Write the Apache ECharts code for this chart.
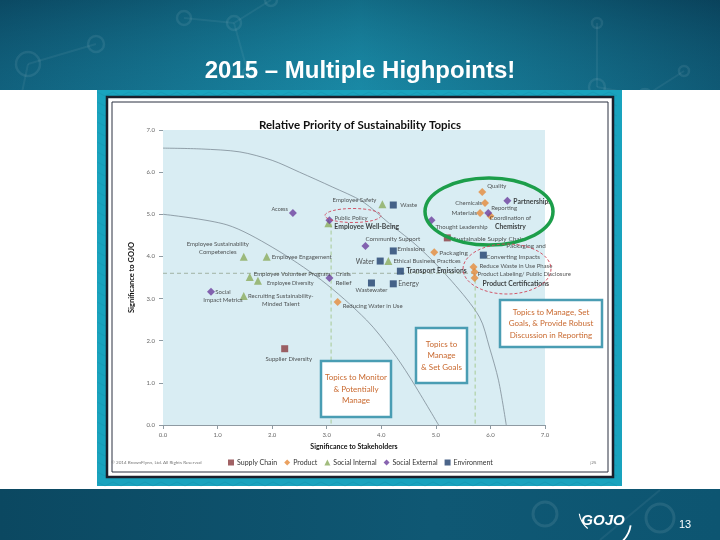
<!DOCTYPE html>
<html><head><meta charset="utf-8">
<script src="https://cdn.jsdelivr.net/npm/echarts@6/dist/echarts.min.js"></script>
<style>html,body{margin:0;padding:0;background:#fff}#c{width:720px;height:540px}</style>
</head><body><div id="c"></div>
<script>
// ---------- data ----------
const categories = ["Supply Chain", "Product", "Social Internal", "Social External", "Environment"];
const xTickLabels = ["0.0","1.0","2.0","3.0","4.0","5.0","6.0","7.0"];
const yTickLabels = ["0.0","1.0","2.0","3.0","4.0","5.0","6.0","7.0"];

const supplyChain = [
  ["Supplier Diversity", 2.23, 1.81],
  ["Sustainable Supply Chain", 5.21, 4.44]
];
const product = [
  ["Quality", 5.85, 5.53],
  ["Chemicals", 5.90, 5.27],
  ["Materials", 5.81, 5.03],
  ["Coordination of Chemistry", 6.00, 4.96],
  ["Packaging", 4.97, 4.10],
  ["Reduce Waste in Use Phase", 5.69, 3.75],
  ["Product Labeling/ Public Disclosure", 5.71, 3.63],
  ["Product Certifications", 5.71, 3.49],
  ["Reducing Water in Use", 3.20, 2.92]
];
const socialInternal = [
  ["Employee Safety", 4.02, 5.24],
  ["Employee Well-Being", 3.03, 4.79],
  ["Employee Sustainability Competencies", 1.48, 3.99],
  ["Employee Engagement", 1.90, 3.99],
  ["Employee Volunteer Program", 1.59, 3.51],
  ["Employee Diversity", 1.74, 3.42],
  ["Recruiting Sustainability-Minded Talent", 1.48, 3.06],
  ["Ethical Business Practices", 4.13, 3.89]
];
const socialExternal = [
  ["Access", 2.38, 5.03],
  ["Public Policy", 3.05, 4.86],
  ["Community Support", 3.71, 4.25],
  ["Crisis Relief", 3.05, 3.49],
  ["Social Impact Metrics", 0.88, 3.16],
  ["Partnerships", 6.31, 5.32],
  ["Reporting", 5.96, 5.03],
  ["Thought Leadership", 4.92, 4.86]
];
const environment = [
  ["Waste", 4.22, 5.22],
  ["Emissions", 4.22, 4.13],
  ["Water", 3.98, 3.89],
  ["Transport Emissions", 4.35, 3.65],
  ["Wastewater", 3.82, 3.37],
  ["Energy", 4.22, 3.35],
  ["Packaging and Converting Impacts", 5.87, 4.03]
];
// priority boundary curves
const outerCurve = [[0,6.57],[0.7,6.55],[1.41,6.48],[2.0,6.28],[2.5,6.0],[3.1,5.65],[3.66,5.3],[4.15,4.78],[4.7,4.2],[5.3,3.4],[5.8,2.56],[5.98,1.85],[6.15,1.05],[6.29,0]];
const innerCurve = [[0,5.0],[1.17,4.75],[2.0,4.22],[2.9,3.44],[3.73,2.49],[4.2,1.75],[4.52,1.14],[5.05,0]];
const horizontalGuide = [[0,3.6],[5.72,3.6]];
const verticalGuideA = [[3.08,4.78],[3.08,0]];
const verticalGuideB = [[5.72,3.45],[5.72,0]];

// ---------- styles (label placement) ----------
// name: [dx, dy, align, size, text, emphasised]
const labelPlacement = {
  "Supplier Diversity": [4, 10, "center", 6],
  "Sustainable Supply Chain": [6, 1, "left", 6.5],
  "Quality": [5, -6, "left", 6],
  "Chemicals": [-3, 0, "right", 6],
  "Materials": [-3, 0, "right", 6.3],
  "Coordination of Chemistry": [20, 6.5, "center", 6, "{a|Coordination of}\n{b|Chemistry}"],
  "Packaging": [5, 1, "left", 6.5],
  "Reduce Waste in Use Phase": [6, -1, "left", 6],
  "Product Labeling/ Public Disclosure": [3, 2.5, "left", 6],
  "Product Certifications": [8, 5.5, "left", 6.8, null, true],
  "Reducing Water in Use": [5, 4, "left", 6],
  "Employee Safety": [-6, -4, "right", 6],
  "Employee Well-Being": [6, 4, "left", 6.8, null, true],
  "Employee Sustainability Competencies": [-26, -9, "center", 6, "Employee Sustainability\nCompetencies"],
  "Employee Engagement": [5, 0, "left", 6],
  "Employee Volunteer Program": [4, -3, "left", 6],
  "Employee Diversity": [9, 2, "left", 5.5],
  "Recruiting Sustainability-Minded Talent": [37, 4, "center", 6, "Recruiting Sustainability-\nMinded Talent"],
  "Ethical Business Practices": [5, 0, "left", 6],
  "Access": [-5, -4, "right", 5.5],
  "Public Policy": [5, -2, "left", 6],
  "Community Support": [0, -7, "left", 6.2],
  "Crisis Relief": [6, 0, "left", 6.5, "Crisis\nRelief"],
  "Social Impact Metrics": [12, 4, "center", 6, "Social\nImpact Metrics"],
  "Partnerships": [6, 1, "left", 6.8, null, true],
  "Reporting": [3, -5, "left", 6],
  "Thought Leadership": [4, 7, "left", 6],
  "Waste": [7, 0, "left", 6],
  "Emissions": [4, -2, "left", 6.5],
  "Water": [-6, 1, "right", 6.8],
  "Transport Emissions": [6, 0, "left", 6.8, null, true],
  "Wastewater": [0, 7, "center", 6],
  "Energy": [5, 0, "left", 6.8],
  "Packaging and Converting Impacts": [3, -4, "left", 6.3, "{p|Packaging and}\n{q|Converting Impacts}"]
};

const FONT = "Lato";
function makeItems(arr) {
  return arr.map(([n, x, y]) => {
    const p = labelPlacement[n] || [5, 0, "left", 6];
    return {
      name: n,
      value: [x, y],
      label: {
        show: true,
        position: "inside",
        offset: [p[0], p[1]],
        align: p[2],
        verticalAlign: "middle",
        fontSize: p[3],
        fontWeight: p[5] ? "bold" : "normal",
        color: p[5] ? "#111" : "#2a2a2a",
        fontFamily: FONT,
        lineHeight: p[3] + 2.5,
        formatter: p[4] || n,
        rich: {
          a: { fontSize: 6, color: "#2a2a2a", fontFamily: FONT, lineHeight: 9 },
          b: { fontSize: 6.8, fontWeight: "bold", color: "#111", fontFamily: FONT, lineHeight: 9 },
          p: { fontSize: 6.3, color: "#2a2a2a", fontFamily: FONT, lineHeight: 11, padding: [0,0,0,20] },
          q: { fontSize: 6.3, color: "#2a2a2a", fontFamily: FONT, lineHeight: 11 }
        }
      }
    };
  });
}

const colors = {
  "Supply Chain": "#8a3b3e",
  "Product": "#e58a3a",
  "Social Internal": "#8bab5c",
  "Social External": "#6b3f9e",
  "Environment": "#1f3f6d"
};

function curveSeries(data, color, type, width) {
  return {
    type: "line", data: data, showSymbol: false, silent: true, smooth: 0.3,
    lineStyle: { color: color, width: width || 0.8, type: type || "solid" }, z: 1,
    emphasis: { disabled: true }
  };
}

// ---------- graphics (layout decoration) ----------
const molCircles = [[28,64,12],[96,44,8],[184,18,7],[234,23,7],[271,0,6],[248,73,5],[597,23,5],[597,87,8],[645,96,7],[684,71,5]];
const molLines = [[[28,64],[96,44]],[[184,18],[234,23]],[[234,23],[271,0]],[[234,23],[248,73]],[[597,23],[597,87]],[[597,87],[645,96]],[[645,96],[684,71]],[[28,64],[12,140]]];

const bg = [];
bg.push({ type: "rect", z: -20, silent: true, shape: { x: 0, y: 0, width: 720, height: 540 }, style: { fill: "#ffffff" } });
bg.push({ type: "rect", z: -19, silent: true, shape: { x: 0, y: 0, width: 720, height: 90 },
  style: { fill: new echarts.graphic.LinearGradient(0, 0, 1, 0, [
    { offset: 0, color: "#0d5470" }, { offset: 0.5, color: "#17839f" }, { offset: 1, color: "#0b4b66" }]) } });
bg.push({ type: "rect", z: -19, silent: true, shape: { x: 0, y: 0, width: 720, height: 90 },
  style: { fill: new echarts.graphic.LinearGradient(0, 0, 0, 1, [
    { offset: 0, color: "rgba(5,40,60,0.25)" }, { offset: 1, color: "rgba(40,170,200,0.15)" }]) } });
molLines.forEach(l => bg.push({ type: "line", z: -18, silent: true,
  shape: { x1: l[0][0], y1: l[0][1], x2: l[1][0], y2: l[1][1] },
  style: { stroke: "rgba(255,255,255,0.06)", lineWidth: 2 } }));
molCircles.forEach(c => bg.push({ type: "circle", z: -17, silent: true,
  shape: { cx: c[0], cy: c[1], r: c[2] },
  style: { fill: null, stroke: "rgba(255,255,255,0.08)", lineWidth: 2.5 } }));
// white slide body covers decorations below the band
bg.push({ type: "rect", z: -16.5, silent: true, shape: { x: 0, y: 90, width: 720, height: 399 }, style: { fill: "#ffffff" } });
bg.push({ type: "text", z: -16, silent: true,
  style: { text: "2015 – Multiple Highpoints!", x: 360, y: 71, align: "center", verticalAlign: "middle",
    fill: "#ffffff", fontSize: 24, fontWeight: "bold", fontFamily: "Liberation Sans" } });
// frame
bg.push({ type: "rect", z: -15, silent: true, shape: { x: 97, y: 90, width: 525, height: 396 }, style: { fill: "#19a3be" } });
for (let row = 0; row < 40; row++) {
  const yy = 92 + row * 10;
  const pts = [];
  for (let xx = 97; xx <= 622; xx += 8) pts.push([xx, yy + ((xx - 97) / 8 % 2 ? 4 : 0)]);
  bg.push({ type: "polyline", z: -14, silent: true, shape: { points: pts }, style: { stroke: "rgba(10,110,140,0.18)", lineWidth: 1, fill: null } });
}
bg.push({ type: "rect", z: -13, silent: true, shape: { x: 107, y: 97, width: 506, height: 380 }, style: { fill: "#ffffff", stroke: "#1b1f2b", lineWidth: 2.5 } });
bg.push({ type: "rect", z: -12, silent: true, shape: { x: 112, y: 102, width: 496, height: 370 }, style: { fill: null, stroke: "#2b3040", lineWidth: 1 } });
// bottom band
bg.push({ type: "rect", z: -16, silent: true, shape: { x: 0, y: 489, width: 720, height: 51 },
  style: { fill: new echarts.graphic.LinearGradient(0, 0, 1, 0, [
    { offset: 0, color: "#0b4861" }, { offset: 0.6, color: "#0f5874" }, { offset: 1, color: "#0d5571" }]) } });
bg.push({ type: "circle", z: -11, silent: true, shape: { cx: 545, cy: 514, r: 12 }, style: { fill: null, stroke: "rgba(255,255,255,0.09)", lineWidth: 3 } });
bg.push({ type: "circle", z: -11, silent: true, shape: { cx: 660, cy: 518, r: 14 }, style: { fill: null, stroke: "rgba(255,255,255,0.09)", lineWidth: 3 } });
bg.push({ type: "line", z: -11, silent: true, shape: { x1: 600, y1: 540, x2: 660, y2: 490 }, style: { stroke: "rgba(255,255,255,0.06)", lineWidth: 2 } });
bg.push({ type: "text", z: -10, silent: true,
  style: { text: "GOJO", x: 603, y: 521, align: "center", verticalAlign: "middle", fill: "#ffffff",
    fontSize: 15, fontWeight: "bold", fontStyle: "italic", fontFamily: "Liberation Sans" } });
bg.push({ type: "arc", z: -10, silent: true, shape: { cx: 603, cy: 521, r: 28, startAngle: Math.PI * 0.05, endAngle: Math.PI * 0.45 },
  style: { stroke: "#ffffff", lineWidth: 1.8, fill: null } });
bg.push({ type: "arc", z: -10, silent: true, shape: { cx: 603, cy: 510, r: 24, startAngle: Math.PI * 0.72, endAngle: Math.PI * 0.95 },
  style: { stroke: "#ffffff", lineWidth: 1.2, fill: null } });
bg.push({ type: "text", z: -10, silent: true,
  style: { text: "13", x: 685, y: 525, align: "center", verticalAlign: "middle", fill: "#ffffff", fontSize: 11, fontFamily: "Liberation Sans" } });

// overlays
const ov = [];
ov.push({ type: "text", z: 50, silent: true,
  style: { text: "© 2014 BrownFlynn, Ltd. All Rights Reserved", x: 111, y: 463, align: "left", verticalAlign: "middle", fill: "#777", fontSize: 4.6, fontFamily: FONT } });
ov.push({ type: "text", z: 50, silent: true,
  style: { text: "|25", x: 590, y: 463, align: "left", verticalAlign: "middle", fill: "#777", fontSize: 4.6, fontFamily: FONT } });
ov.push({ type: "ellipse", z: 50, silent: true, shape: { cx: 353, cy: 215.5, rx: 28, ry: 7 },
  style: { fill: null, stroke: "#d0465a", lineWidth: 0.9, lineDash: [3, 2] } });
ov.push({ type: "ellipse", z: 50, silent: true, shape: { cx: 489, cy: 211.5, rx: 64, ry: 33.5 },
  style: { fill: null, stroke: "#1c9e4a", lineWidth: 3.5 } });
ov.push({ type: "ellipse", z: 50, silent: true, shape: { cx: 507, cy: 269, rx: 44, ry: 25 },
  style: { fill: null, stroke: "#d0465a", lineWidth: 0.9, lineDash: [3, 2] } });
function box(x, y, w, h, text) {
  ov.push({ type: "rect", z: 60, silent: true, shape: { x: x, y: y, width: w, height: h },
    style: { fill: "#ffffff", stroke: "#4a9db3", lineWidth: 2.5 } });
  ov.push({ type: "text", z: 61, silent: true,
    style: { text: text, x: x + w / 2, y: y + h / 2, align: "center", verticalAlign: "middle",
      fill: "#c9692f", fontSize: 8, lineHeight: 11.5, fontFamily: FONT } });
}
box(321, 361, 70, 56, "Topics to Monitor\n& Potentially\nManage");
box(416, 328, 51, 55, "Topics to\nManage\n& Set Goals");
box(500, 300, 102, 47, "Topics to Manage, Set\nGoals, & Provide Robust\nDiscussion in Reporting");

const chart = echarts.init(document.getElementById("c"), null, { renderer: "canvas" });
chart.setOption({
  animation: false,
  textStyle: { fontFamily: FONT },
  title: { text: "Relative Priority of Sustainability Topics", left: "center", top: 114,
    textStyle: { fontSize: 11.5, fontWeight: "bold", color: "#111", fontFamily: FONT } },
  legend: {
    data: categories, left: 223, top: 454, itemWidth: 6, itemHeight: 6, itemGap: 7,
    textStyle: { fontSize: 7, color: "#333", fontFamily: FONT, padding: [0, 0, 0, -2] },
    selectedMode: false
  },
  grid: { left: 163, top: 130, right: 175, bottom: 115, show: true, backgroundColor: "#d9edf3", borderWidth: 0 },
  xAxis: {
    type: "value", min: 0, max: 7, interval: 1,
    name: "Significance to Stakeholders", nameLocation: "middle", nameGap: 18,
    nameTextStyle: { fontSize: 7, fontWeight: "bold", color: "#111", fontFamily: FONT },
    axisLine: { show: true, lineStyle: { color: "#8e9aa2", width: 1 } },
    axisTick: { show: true, length: 4, lineStyle: { color: "#8e9aa2" } },
    axisLabel: { fontSize: 6, color: "#666", margin: 7, formatter: (v) => xTickLabels[Math.round(v)] },
    splitLine: { show: false }
  },
  yAxis: {
    type: "value", min: 0, max: 7, interval: 1,
    name: "Significance to GOJO", nameLocation: "middle", nameGap: 20, nameRotate: 90,
    nameTextStyle: { fontSize: 7.5, fontWeight: "bold", color: "#111", fontFamily: FONT },
    axisLine: { show: false },
    axisTick: { show: true, length: 4, lineStyle: { color: "#8e9aa2" } },
    axisLabel: { fontSize: 6, color: "#666", margin: 8, formatter: (v) => yTickLabels[Math.round(v)] },
    splitLine: { show: false }
  },
  graphic: { elements: bg.concat(ov) },
  series: [
    curveSeries(outerCurve, "#7d8b95", "solid", 0.8),
    curveSeries(innerCurve, "#7d8b95", "solid", 0.8),
    Object.assign(curveSeries(horizontalGuide, "#93a38f", [4, 3], 0.8), { smooth: false }),
    Object.assign(curveSeries(verticalGuideA, "#9cc27d", [4, 3], 0.8), { smooth: false }),
    Object.assign(curveSeries(verticalGuideB, "#9cc27d", [4, 3], 0.8), { smooth: false }),
    { name: "Supply Chain", type: "scatter", symbol: "rect", symbolSize: 7, itemStyle: { color: colors["Supply Chain"] }, data: makeItems(supplyChain), z: 5 },
    { name: "Product", type: "scatter", symbol: "diamond", symbolSize: 8, itemStyle: { color: colors["Product"] }, data: makeItems(product), z: 5 },
    { name: "Social Internal", type: "scatter", symbol: "triangle", symbolSize: 8, itemStyle: { color: colors["Social Internal"] }, data: makeItems(socialInternal), z: 5 },
    { name: "Social External", type: "scatter", symbol: "diamond", symbolSize: 8, itemStyle: { color: colors["Social External"] }, data: makeItems(socialExternal), z: 5 },
    { name: "Environment", type: "scatter", symbol: "rect", symbolSize: 7, itemStyle: { color: colors["Environment"] }, data: makeItems(environment), z: 5 }
  ]
});
</script></body></html>
